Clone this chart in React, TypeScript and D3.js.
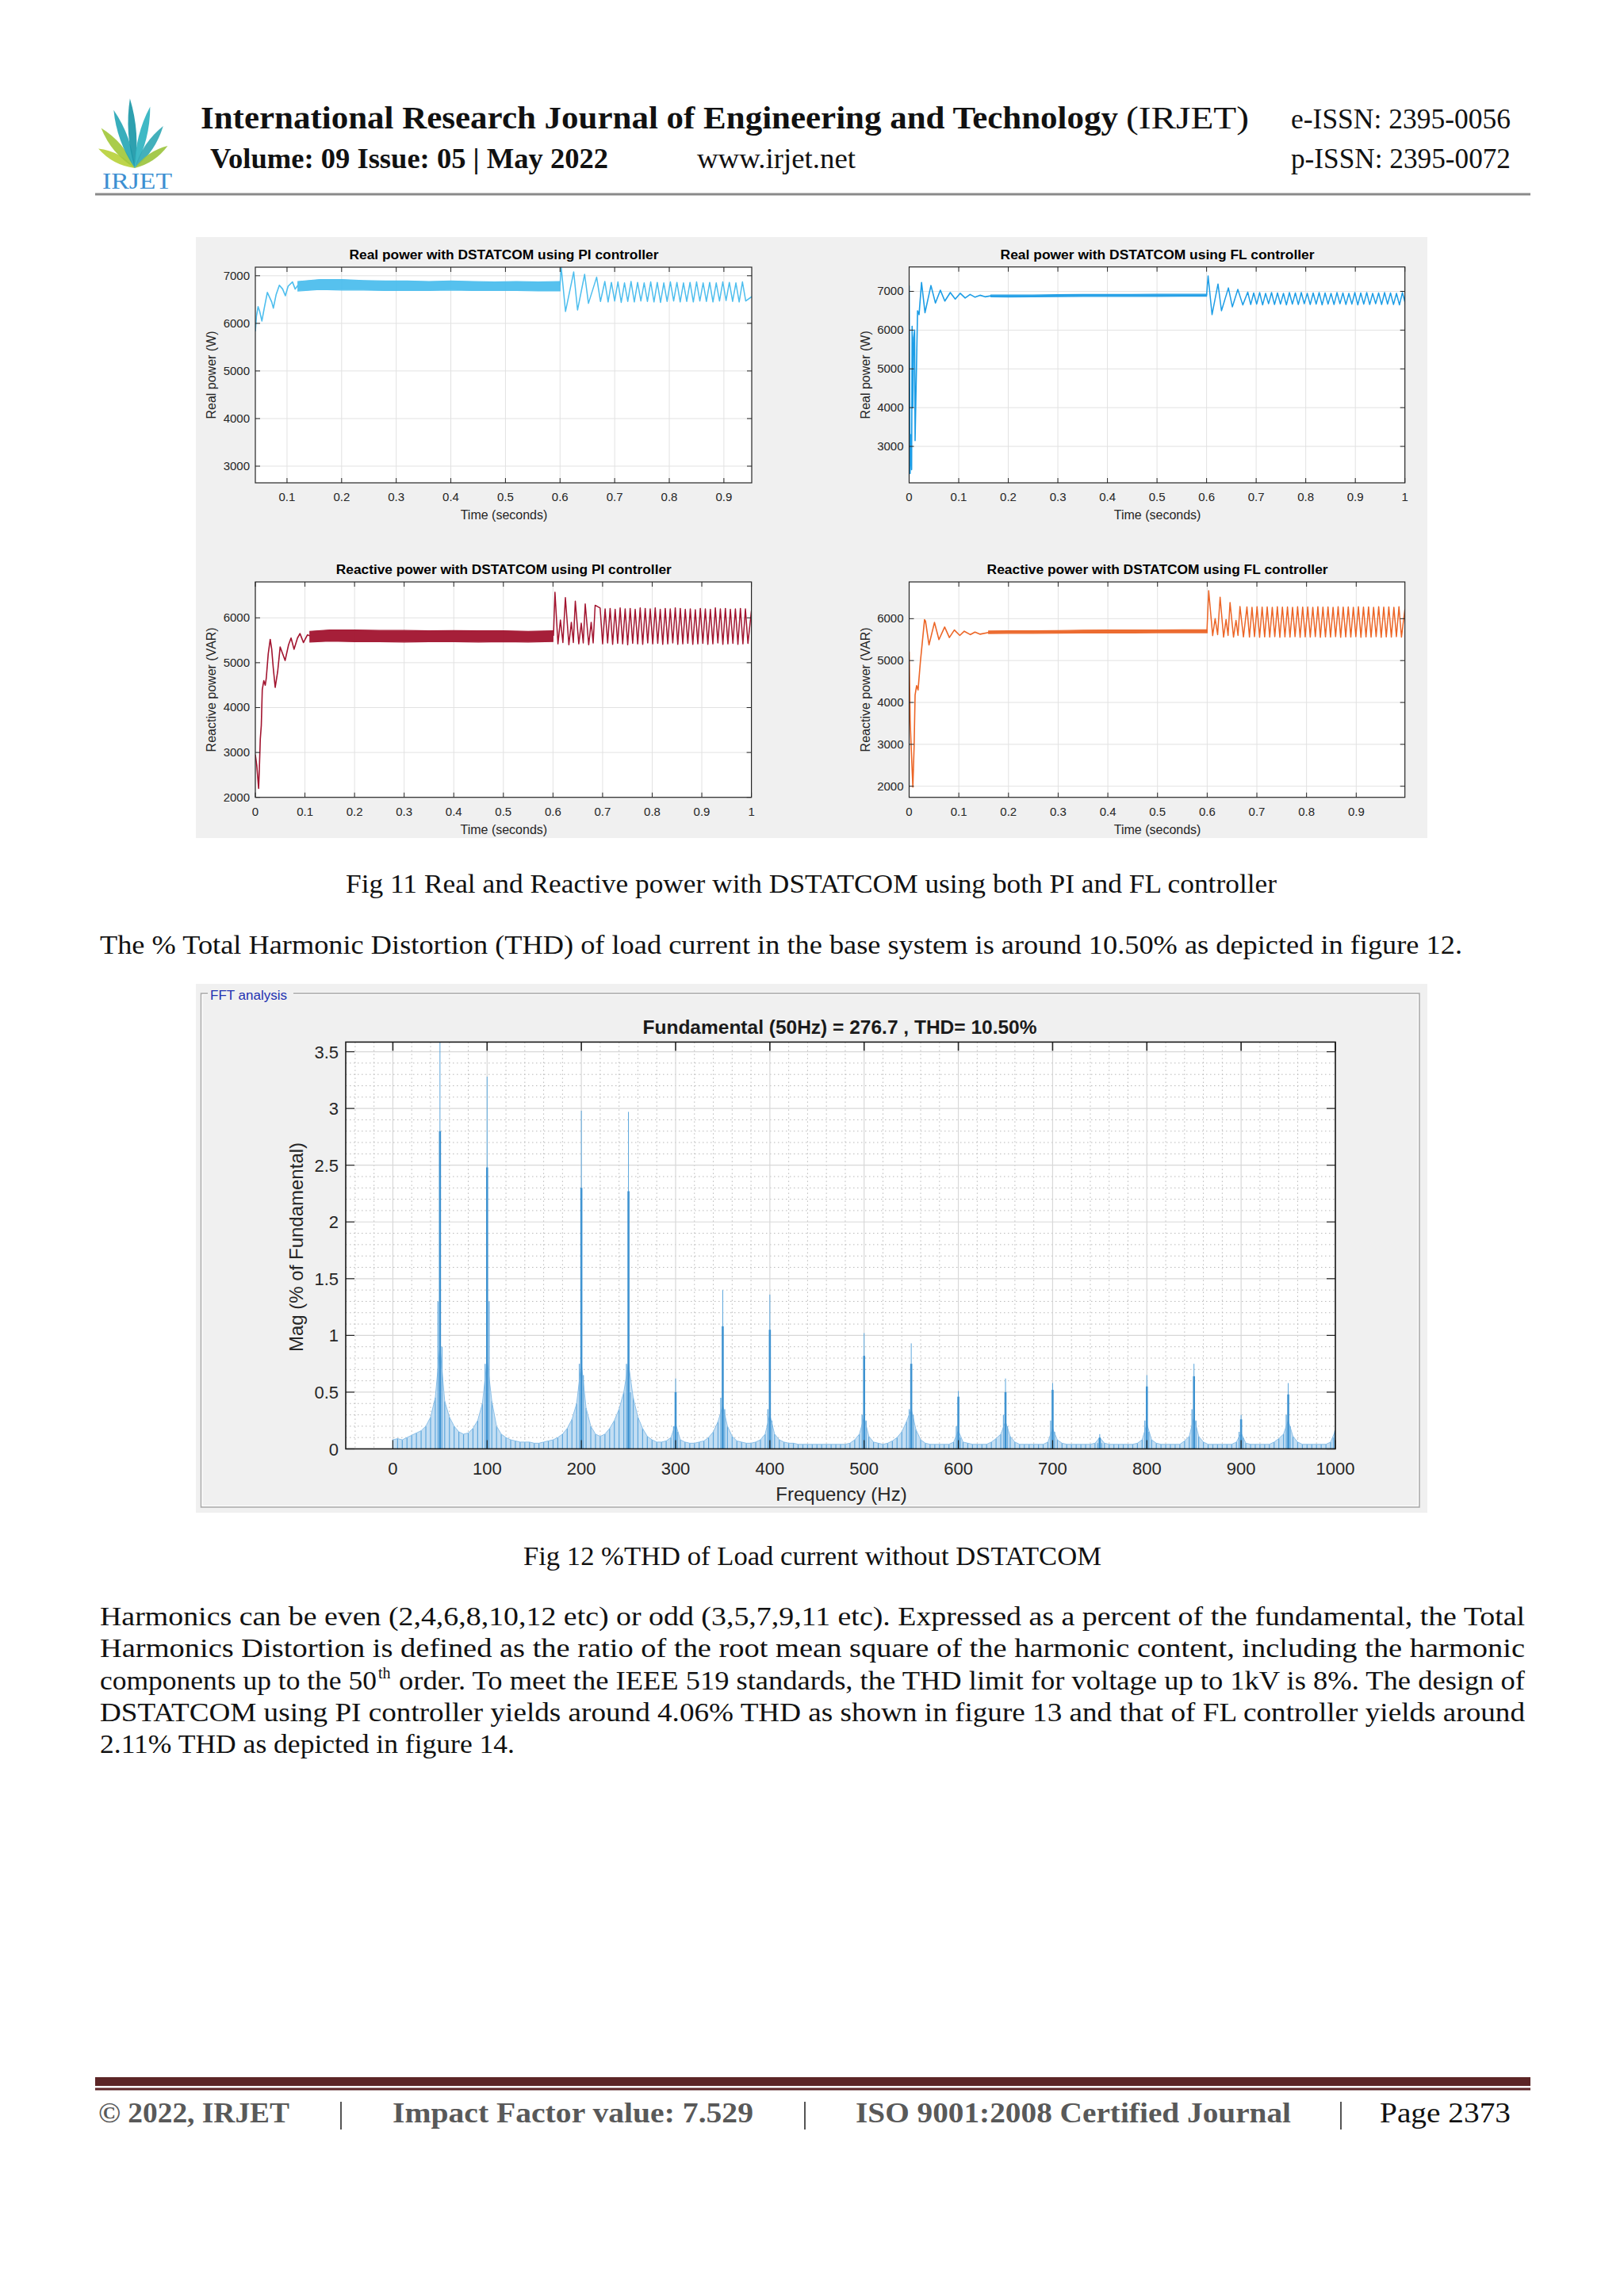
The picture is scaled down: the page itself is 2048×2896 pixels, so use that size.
import React from 'react';
import * as d3 from 'd3';

const SERIF = '"Liberation Serif", "DejaVu Serif", serif';
const SANS = '"Liberation Sans", Arial, "DejaVu Sans", sans-serif';

type Pt = [number, number];

// ---------------- Fig 11 data ----------------
// PI real power
const piRealTransT = [0.042, 0.044, 0.047, 0.050, 0.054, 0.058, 0.064, 0.068, 0.072, 0.075, 0.080, 0.086, 0.092, 0.097, 0.102, 0.110, 0.115, 0.120];
const piRealTransV = [5830, 6150, 6350, 6250, 6050, 6300, 6650, 6550, 6450, 6320, 6600, 6800, 6720, 6580, 6780, 6870, 6720, 6800];
const piRealBandT = [0.12, 0.16, 0.20, 0.24, 0.28, 0.32, 0.36, 0.40, 0.44, 0.48, 0.52, 0.56, 0.60];
const piRealBandHi = [6880, 6920, 6920, 6900, 6890, 6890, 6880, 6890, 6880, 6870, 6880, 6870, 6880];
const piRealBandLo = [6680, 6710, 6700, 6700, 6690, 6690, 6690, 6700, 6690, 6690, 6690, 6680, 6680];
const piRealPostT = [0.600, 0.602, 0.610, 0.625, 0.632, 0.645, 0.652, 0.667, 0.674];
const piRealPostV = [6800, 7190, 6250, 7080, 6280, 7030, 6420, 6970, 6460];
const piRealOscStart = 0.682;
const piRealOscPeriod = 0.012;
const piRealOscHi = [6880, 6860, 6870, 6850, 6880, 6860, 6850, 6870, 6860, 6850, 6870, 6860, 6850, 6860, 6870, 6850, 6860, 6850, 6870, 6860, 6850, 6870];
const piRealOscLo = [6450, 6470, 6440, 6460, 6450, 6470, 6460, 6450, 6440, 6460, 6470, 6450, 6460, 6450, 6470, 6460, 6450, 6470, 6480, 6460, 6450, 6470];
const piRealEnd: Pt = [0.951, 6560];

// FL real power
const flRealTransT = [0, 0.002, 0.003, 0.005, 0.006, 0.0075, 0.009, 0.011, 0.012, 0.014, 0.017, 0.020, 0.025, 0.032, 0.044, 0.053, 0.063, 0.072, 0.083, 0.093, 0.103, 0.113, 0.123, 0.133, 0.143, 0.153, 0.165];
const flRealTransV = [7150, 2300, 3300, 2400, 6100, 4000, 5800, 6000, 3150, 4500, 6500, 6400, 7230, 6450, 7150, 6700, 7030, 6750, 6970, 6800, 6950, 6830, 6920, 6850, 6900, 6860, 6885];
const flRealBandT = [0.165, 0.20, 0.25, 0.30, 0.35, 0.40, 0.45, 0.50, 0.55, 0.60];
const flRealBandHi = [6905, 6905, 6905, 6915, 6920, 6920, 6920, 6925, 6925, 6925];
const flRealBandLo = [6860, 6855, 6860, 6865, 6870, 6870, 6870, 6870, 6875, 6875];
const flRealPostT = [0.600, 0.603, 0.611, 0.623, 0.630, 0.644, 0.652, 0.663, 0.673];
const flRealPostV = [6900, 7400, 6400, 7190, 6500, 7090, 6600, 7050, 6650];
const flRealOscStart = 0.683;
const flRealOscPeriod = 0.012;
const flRealOscHi = [6980, 6960, 6970, 6950, 6970, 6960, 6950, 6970, 6960, 6970, 6950, 6960, 6970, 6960, 6950, 6970, 6960, 6950, 6970, 6960, 6970, 6950, 6960, 6970, 6960, 6950, 6970];
const flRealOscLo = [6660, 6670, 6650, 6680, 6660, 6670, 6650, 6670, 6660, 6680, 6660, 6670, 6650, 6670, 6660, 6680, 6660, 6670, 6650, 6670, 6660, 6680, 6660, 6670, 6660, 6650, 6670];
const flRealEnd: Pt = [1.0, 6850];

// PI reactive power
const piReacTransT = [0, 0.003, 0.0066, 0.008, 0.010, 0.012, 0.014, 0.017, 0.020, 0.022, 0.026, 0.030, 0.033, 0.036, 0.040, 0.045, 0.050, 0.055, 0.060, 0.067, 0.072, 0.078, 0.085, 0.090, 0.097, 0.105, 0.110];
const piReacTransV = [2950, 2700, 2200, 2600, 3300, 3600, 4400, 4600, 4500, 4650, 5200, 5520, 5300, 4900, 4450, 4800, 5350, 5200, 5050, 5400, 5550, 5300, 5550, 5650, 5450, 5620, 5600];
const piReacBandT = [0.11, 0.15, 0.20, 0.25, 0.30, 0.35, 0.40, 0.45, 0.50, 0.55, 0.60];
const piReacBandHi = [5700, 5730, 5730, 5720, 5720, 5710, 5715, 5710, 5710, 5700, 5710];
const piReacBandLo = [5460, 5480, 5470, 5470, 5460, 5470, 5470, 5460, 5470, 5460, 5470];
const piReacPostT = [0.601, 0.604, 0.610, 0.615, 0.620, 0.625, 0.632, 0.637, 0.641, 0.645, 0.652, 0.657, 0.661, 0.665, 0.672, 0.677, 0.681, 0.685];
const piReacPostV = [5600, 6570, 5420, 5950, 5450, 6450, 5400, 5900, 5450, 6370, 5420, 5880, 5440, 6310, 5400, 5900, 5440, 6280];
const piReacOscStart = 0.695;
const piReacOscPeriod = 0.0101;
const piReacOscHi = [6220, 6200, 6210, 6190, 6220, 6200, 6210, 6190, 6220, 6210, 6200, 6220, 6190, 6210, 6200, 6220, 6210, 6190, 6200, 6180, 6210, 6200, 6190, 6220, 6200, 6210, 6190, 6200, 6210, 6200];
const piReacOscLo = [5420, 5440, 5410, 5430, 5420, 5400, 5430, 5420, 5410, 5440, 5420, 5430, 5410, 5420, 5440, 5410, 5420, 5430, 5410, 5420, 5430, 5410, 5420, 5440, 5410, 5420, 5430, 5410, 5420, 5430];
const piReacEnd: Pt = [1.0, 6160];

// FL reactive power
const flReacTransT = [0, 0.002, 0.0045, 0.0075, 0.010, 0.012, 0.015, 0.018, 0.0226, 0.031, 0.033, 0.040, 0.051, 0.060, 0.0715, 0.081, 0.091, 0.102, 0.111, 0.123, 0.1325, 0.143, 0.160];
const flReacTransV = [5218, 3577, 2820, 1980, 2950, 4180, 4400, 4300, 4965, 5975, 5940, 5375, 5910, 5500, 5800, 5550, 5730, 5600, 5700, 5620, 5680, 5630, 5670];
const flReacBandT = [0.16, 0.20, 0.25, 0.30, 0.35, 0.40, 0.45, 0.50, 0.55, 0.60];
const flReacBandHi = [5705, 5710, 5710, 5715, 5725, 5730, 5730, 5730, 5735, 5735];
const flReacBandLo = [5645, 5650, 5650, 5655, 5660, 5660, 5660, 5665, 5665, 5665];
const flReacPostT = [0.5995, 0.603, 0.611, 0.616, 0.621, 0.626, 0.633, 0.638, 0.642, 0.646, 0.653, 0.658, 0.662, 0.666, 0.673];
const flReacPostV = [5700, 6669, 5596, 6000, 5620, 6511, 5560, 5980, 5600, 6385, 5560, 5960, 5600, 6290, 5565];
const flReacOscStart = 0.680;
const flReacOscPeriod = 0.0102;
const flReacOscHi = [6280, 6270, 6285, 6275, 6280, 6270, 6285, 6275, 6280, 6270, 6285, 6275, 6280, 6270, 6285, 6275, 6280, 6270, 6285, 6275, 6280, 6270, 6285, 6275, 6280, 6270, 6285, 6275, 6280, 6270, 6285];
const flReacOscLo = [5560, 5570, 5555, 5565, 5560, 5570, 5555, 5565, 5560, 5570, 5555, 5565, 5560, 5570, 5555, 5565, 5560, 5570, 5555, 5565, 5560, 5570, 5555, 5565, 5560, 5570, 5555, 5565, 5560, 5570, 5560];
const flReacEnd: Pt = [0.998, 6227];

const ticksPIReal = [0.1, 0.2, 0.3, 0.4, 0.5, 0.6, 0.7, 0.8, 0.9];
const ticksFull = [0, 0.1, 0.2, 0.3, 0.4, 0.5, 0.6, 0.7, 0.8, 0.9, 1];
const ticksNoOne = [0, 0.1, 0.2, 0.3, 0.4, 0.5, 0.6, 0.7, 0.8, 0.9];
const realYTicks = [3000, 4000, 5000, 6000, 7000];
const reacYTicks = [2000, 3000, 4000, 5000, 6000];

// ---------------- Fig 12 data ----------------
const fftEnvStep = 5; // Hz between envelope samples, starting at 0 Hz
const fftEnvelope = [
  0.08, 0.09, 0.08, 0.10, 0.12, 0.14, 0.16, 0.20, 0.28, 0.45,
  0.90, 0.42, 0.28, 0.20, 0.15, 0.13, 0.14, 0.18, 0.25, 0.40,
  0.78, 0.42, 0.20, 0.13, 0.10, 0.08, 0.07, 0.06, 0.06, 0.06,
  0.05, 0.05, 0.06, 0.07, 0.08, 0.10, 0.13, 0.18, 0.26, 0.40,
  0.75, 0.36, 0.20, 0.13, 0.11, 0.13, 0.18, 0.25, 0.35, 0.50,
  0.75, 0.45, 0.28, 0.18, 0.11, 0.08, 0.06, 0.06, 0.07, 0.10,
  0.22, 0.08, 0.06, 0.05, 0.05, 0.06, 0.07, 0.10, 0.15, 0.24,
  0.38, 0.20, 0.11, 0.07, 0.06, 0.05, 0.05, 0.06, 0.08, 0.13,
  0.30, 0.13, 0.08, 0.06, 0.05, 0.05, 0.04, 0.04, 0.04, 0.04,
  0.04, 0.04, 0.04, 0.04, 0.04, 0.04, 0.04, 0.05, 0.08, 0.13,
  0.28, 0.11, 0.06, 0.05, 0.04, 0.05, 0.07, 0.10, 0.15, 0.24,
  0.35, 0.17, 0.08, 0.05, 0.04, 0.04, 0.04, 0.04, 0.04, 0.06,
  0.16, 0.06, 0.05, 0.04, 0.04, 0.04, 0.04, 0.06, 0.09, 0.13,
  0.24, 0.11, 0.06, 0.04, 0.04, 0.04, 0.04, 0.04, 0.04, 0.06,
  0.18, 0.08, 0.05, 0.04, 0.04, 0.04, 0.04, 0.04, 0.04, 0.05,
  0.10, 0.05, 0.04, 0.04, 0.04, 0.04, 0.04, 0.04, 0.05, 0.08,
  0.22, 0.08, 0.05, 0.04, 0.04, 0.04, 0.04, 0.04, 0.07, 0.11,
  0.28, 0.11, 0.06, 0.04, 0.04, 0.04, 0.04, 0.04, 0.04, 0.06,
  0.14, 0.05, 0.04, 0.04, 0.04, 0.04, 0.04, 0.06, 0.09, 0.13,
  0.25, 0.11, 0.06, 0.04, 0.04, 0.04, 0.04, 0.04, 0.04, 0.06,
  0.16,
];
const harmonicFreq = [50, 100, 200, 250, 300, 350, 400, 500, 550, 600, 650, 700, 750, 800, 850, 900, 950, 1000];
const harmonicTop = [3.585, 3.28, 2.98, 2.97, 0.62, 1.40, 1.36, 1.02, 0.93, 0.51, 0.62, 0.58, 0.13, 0.65, 0.75, 0.30, 0.58, 0.16];
const harmonicMain = [2.80, 2.48, 2.30, 2.27, 0.50, 1.08, 1.05, 0.82, 0.75, 0.46, 0.50, 0.52, 0.10, 0.55, 0.64, 0.26, 0.48, 0.16];
const harmonicSideL = [1.30, 0.75, 0.75, 0.75, 0.20, 0.45, 0.35, 0.30, 0.35, 0.20, 0.30, 0.25, 0.05, 0.25, 0.35, 0.15, 0.30, 0.10];
const harmonicSideR = [0.90, 1.30, 0.65, 0.50, 0.15, 0.35, 0.25, 0.25, 0.30, 0.10, 0.20, 0.15, 0.05, 0.15, 0.25, 0.10, 0.20, 0.10];
const fftXTicks = [0, 100, 200, 300, 400, 500, 600, 700, 800, 900, 1000];
const fftYTicks = [0, 0.5, 1, 1.5, 2, 2.5, 3, 3.5];

// ---------------- helpers ----------------
function zip(t: number[], v: number[]): Pt[] {
  return t.map((tt, i) => [tt, v[i]] as Pt);
}
function oscPoints(start: number, period: number, hi: number[], lo: number[]): Pt[] {
  const pts: Pt[] = [];
  hi.forEach((h, k) => {
    pts.push([start + k * period, h]);
    if (lo[k] !== undefined) pts.push([start + k * period + period / 2, lo[k]]);
  });
  return pts;
}

interface PlotSpec {
  id: string;
  left: number; right: number; top: number; bottom: number;
  xDomain: [number, number]; yDomain: [number, number];
  xTicks: number[]; yTicks: number[];
  title: string; titleLen: number; xlabel: string; ylabel: string; color: string;
  trans: Pt[]; bandT: number[]; bandHi: number[]; bandLo: number[]; post: Pt[];
}

const plots: PlotSpec[] = [
  {
    id: 'a', left: 322, right: 948, top: 337, bottom: 609,
    xDomain: [0.042, 0.951], yDomain: [2650, 7180], xTicks: ticksPIReal, yTicks: realYTicks,
    title: 'Real power with DSTATCOM using PI controller', titleLen: 390,
    xlabel: 'Time (seconds)', ylabel: 'Real power (W)', color: '#4DBEEE',
    trans: zip(piRealTransT, piRealTransV), bandT: piRealBandT, bandHi: piRealBandHi, bandLo: piRealBandLo,
    post: [...zip(piRealPostT, piRealPostV), ...oscPoints(piRealOscStart, piRealOscPeriod, piRealOscHi, piRealOscLo), piRealEnd],
  },
  {
    id: 'b', left: 1146.5, right: 1771.7, top: 336.7, bottom: 609,
    xDomain: [0, 1], yDomain: [2060, 7630], xTicks: ticksFull, yTicks: realYTicks,
    title: 'Real power with DSTATCOM using FL controller', titleLen: 396,
    xlabel: 'Time (seconds)', ylabel: 'Real power (W)', color: '#1C9DE6',
    trans: zip(flRealTransT, flRealTransV), bandT: flRealBandT, bandHi: flRealBandHi, bandLo: flRealBandLo,
    post: [...zip(flRealPostT, flRealPostV), ...oscPoints(flRealOscStart, flRealOscPeriod, flRealOscHi, flRealOscLo), flRealEnd],
  },
  {
    id: 'c', left: 322, right: 947.6, top: 734, bottom: 1005.7,
    xDomain: [0, 1], yDomain: [2000, 6800], xTicks: ticksFull, yTicks: reacYTicks,
    title: 'Reactive power with DSTATCOM using PI controller', titleLen: 423,
    xlabel: 'Time (seconds)', ylabel: 'Reactive power (VAR)', color: '#A2142F',
    trans: zip(piReacTransT, piReacTransV), bandT: piReacBandT, bandHi: piReacBandHi, bandLo: piReacBandLo,
    post: [...zip(piReacPostT, piReacPostV), ...oscPoints(piReacOscStart, piReacOscPeriod, piReacOscHi, piReacOscLo), piReacEnd],
  },
  {
    id: 'd', left: 1146.5, right: 1771.7, top: 734, bottom: 1005.7,
    xDomain: [0, 0.998], yDomain: [1735, 6877], xTicks: ticksNoOne, yTicks: reacYTicks,
    title: 'Reactive power with DSTATCOM using FL controller', titleLen: 430,
    xlabel: 'Time (seconds)', ylabel: 'Reactive power (VAR)', color: '#EC6526',
    trans: zip(flReacTransT, flReacTransV), bandT: flReacBandT, bandHi: flReacBandHi, bandLo: flReacBandLo,
    post: [...zip(flReacPostT, flReacPostV), ...oscPoints(flReacOscStart, flReacOscPeriod, flReacOscHi, flReacOscLo), flReacEnd],
  },
];

const fmtTick = (t: number) => `${+t.toFixed(2)}`;

function TimePlot({ s }: { s: PlotSpec }) {
  const x = d3.scaleLinear().domain(s.xDomain).range([s.left, s.right]);
  const y = d3.scaleLinear().domain(s.yDomain).range([s.bottom, s.top]);
  const line = d3.line<Pt>().x(d => x(d[0])).y(d => y(d[1]));
  const area = d3.area<number>()
    .x(d => x(d))
    .y0((d, i) => y(s.bandLo[i]))
    .y1((d, i) => y(s.bandHi[i]));
  const cx = (s.left + s.right) / 2 + 0.5;
  const tl = 6;
  return (
    <g>
      <defs>
        <clipPath id={`clip-${s.id}`}>
          <rect x={s.left} y={s.top} width={s.right - s.left} height={s.bottom - s.top} />
        </clipPath>
      </defs>
      <rect x={s.left} y={s.top} width={s.right - s.left} height={s.bottom - s.top} fill="#fff" />
      {s.xTicks.map(t => (
        <line key={`gx${t}`} x1={x(t)} x2={x(t)} y1={s.top} y2={s.bottom} stroke="#e2e2e2" strokeWidth={1} />
      ))}
      {s.yTicks.map(t => (
        <line key={`gy${t}`} x1={s.left} x2={s.right} y1={y(t)} y2={y(t)} stroke="#e2e2e2" strokeWidth={1} />
      ))}
      <g clipPath={`url(#clip-${s.id})`}>
        <path d={area(s.bandT) || ''} fill={s.color} stroke={s.color} strokeWidth={1.2} opacity={0.95} />
        <path d={line(s.trans) || ''} fill="none" stroke={s.color} strokeWidth={1.6} strokeLinejoin="round" />
        <path d={line(s.post) || ''} fill="none" stroke={s.color} strokeWidth={1.5} strokeLinejoin="round" />
      </g>
      {s.xTicks.map(t => (
        <g key={`tx${t}`}>
          <line x1={x(t)} x2={x(t)} y1={s.bottom} y2={s.bottom - tl} stroke="#262626" />
          <line x1={x(t)} x2={x(t)} y1={s.top} y2={s.top + tl} stroke="#262626" />
          <text x={x(t)} y={s.bottom + 23} textAnchor="middle" fontFamily={SANS} fontSize={15} fill="#262626">{fmtTick(t)}</text>
        </g>
      ))}
      {s.yTicks.map(t => (
        <g key={`ty${t}`}>
          <line x1={s.left} x2={s.left + tl} y1={y(t)} y2={y(t)} stroke="#262626" />
          <line x1={s.right} x2={s.right - tl} y1={y(t)} y2={y(t)} stroke="#262626" />
          <text x={s.left - 7} y={y(t) + 5} textAnchor="end" fontFamily={SANS} fontSize={15} fill="#262626">{t}</text>
        </g>
      ))}
      <rect x={s.left} y={s.top} width={s.right - s.left} height={s.bottom - s.top} fill="none" stroke="#262626" strokeWidth={1.2} />
      <text x={cx} y={s.top - 10} textAnchor="middle" fontFamily={SANS} fontWeight="bold" fontSize={16} fill="#000"
        textLength={s.titleLen} lengthAdjust="spacingAndGlyphs">{s.title}</text>
      <text x={cx} y={s.bottom + 46} textAnchor="middle" fontFamily={SANS} fontSize={16} fill="#262626">{s.xlabel}</text>
      <text transform={`translate(${s.left - 50},${(s.top + s.bottom) / 2}) rotate(-90)`} textAnchor="middle"
        fontFamily={SANS} fontSize={16} fill="#262626">{s.ylabel}</text>
    </g>
  );
}

function FFTChart() {
  const L = 436, R = 1684, T = 1314.4, B = 1827.5;
  const x = d3.scaleLinear().domain([-50, 1000]).range([L, R]);
  const y = d3.scaleLinear().domain([0, 3.585]).range([B, T]);
  const envPts: Pt[] = fftEnvelope.map((v, i) => [i * fftEnvStep, v]);
  const area = d3.area<Pt>().x(d => x(d[0])).y0(B).y1(d => y(d[1]));
  const envLine = d3.line<Pt>().x(d => x(d[0])).y(d => y(d[1]));
  const minorX = d3.range(-40, 1000, 20).filter(v => v % 100 !== 0);
  const minorY = d3.range(1, 36).map(v => v / 10).filter(v => Math.abs(v * 2 - Math.round(v * 2)) > 1e-6);
  const blue = '#3f93d1';
  return (
    <g>
      <rect x={247} y={1241} width={1553} height={667} fill="#f0f0f0" />
      <path d="M262,1253 H253.5 V1901 H1790 V1253 H370" fill="none" stroke="#a9a9a9" strokeWidth={1.5} />
      <path d="M262,1254.5 H255 V1899.5 H1788.5 V1254.5 H370" fill="none" stroke="#ffffff" strokeWidth={1} />
      <text x={265} y={1261} fontFamily={SANS} fontSize={17} fill="#2231b0">FFT analysis</text>
      <text x={1059} y={1304} textAnchor="middle" fontFamily={SANS} fontWeight="bold" fontSize={23} fill="#1a1a1a"
        textLength={497} lengthAdjust="spacingAndGlyphs">Fundamental (50Hz) = 276.7 , THD= 10.50%</text>
      <rect x={L} y={T} width={R - L} height={B - T} fill="#fff" />
      {minorX.map(v => (
        <line key={`mx${v}`} x1={x(v)} x2={x(v)} y1={T} y2={B} stroke="#b8b8b8" strokeWidth={1} strokeDasharray="1.5,3.5" />
      ))}
      {minorY.map(v => (
        <line key={`my${v}`} x1={L} x2={R} y1={y(v)} y2={y(v)} stroke="#b8b8b8" strokeWidth={1} strokeDasharray="1.5,3.5" />
      ))}
      {fftXTicks.map(v => (
        <line key={`gx${v}`} x1={x(v)} x2={x(v)} y1={T} y2={B} stroke="#d8d8d8" strokeWidth={1.2} />
      ))}
      {fftYTicks.map(v => (
        <line key={`gy${v}`} x1={L} x2={R} y1={y(v)} y2={y(v)} stroke="#d8d8d8" strokeWidth={1.2} />
      ))}
      <defs>
        <clipPath id="clip-fft">
          <rect x={L} y={T} width={R - L} height={B - T} />
        </clipPath>
      </defs>
      <g clipPath="url(#clip-fft)">
        <path d={area(envPts) || ''} fill="#c3def3" />
        {envPts.map(d => (
          <line key={`eb${d[0]}`} x1={x(d[0])} x2={x(d[0])} y1={B} y2={y(d[1])} stroke="#5fa7dc" strokeWidth={1.2} />
        ))}
        <path d={envLine(envPts) || ''} fill="none" stroke="#8cc0e8" strokeWidth={1} />
        {harmonicFreq.map((f, i) => (
          <g key={`h${f}`}>
            <line x1={x(f) - 2.5} x2={x(f) - 2.5} y1={B} y2={y(harmonicSideL[i])} stroke="#6fb0e0" strokeWidth={1.4} />
            <line x1={x(f) + 2.5} x2={x(f) + 2.5} y1={B} y2={y(harmonicSideR[i])} stroke="#6fb0e0" strokeWidth={1.4} />
            <line x1={x(f)} x2={x(f)} y1={B} y2={y(harmonicTop[i])} stroke="#5aa6dc" strokeWidth={1} />
            <line x1={x(f)} x2={x(f)} y1={B} y2={y(harmonicMain[i])} stroke={blue} strokeWidth={2.6} />
          </g>
        ))}
      </g>
      {fftXTicks.map(v => (
        <g key={`tx${v}`}>
          <line x1={x(v)} x2={x(v)} y1={B} y2={B - 11} stroke="#262626" strokeWidth={1.2} />
          <line x1={x(v)} x2={x(v)} y1={T} y2={T + 11} stroke="#262626" strokeWidth={1.6} />
          <text x={x(v)} y={1859.5} textAnchor="middle" fontFamily={SANS} fontSize={22} fill="#262626">{v}</text>
        </g>
      ))}
      {fftYTicks.map(v => (
        <g key={`ty${v}`}>
          <line x1={L} x2={L + 11} y1={y(v)} y2={y(v)} stroke="#262626" strokeWidth={1.2} />
          <line x1={R} x2={R - 11} y1={y(v)} y2={y(v)} stroke="#262626" strokeWidth={1.2} />
          <text x={427} y={y(v) + 8} textAnchor="end" fontFamily={SANS} fontSize={22} fill="#262626">{v}</text>
        </g>
      ))}
      <rect x={L} y={T} width={R - L} height={B - T} fill="none" stroke="#1a1a1a" strokeWidth={1.6} />
      <text x={1061} y={1893} textAnchor="middle" fontFamily={SANS} fontSize={24} fill="#262626">Frequency (Hz)</text>
      <text transform={`translate(382,1573) rotate(-90)`} textAnchor="middle" fontFamily={SANS} fontSize={24} fill="#262626">Mag (% of Fundamental)</text>
    </g>
  );
}

function Logo() {
  const cx = 170, cy = 212;
  const leaves = [
    { a: -62, L: 52, w: 10, c: '#b9d13c' },
    { a: -40, L: 66, w: 11, c: '#a3c83c' },
    { a: -20, L: 78, w: 10, c: '#27a7b6' },
    { a: -4, L: 88, w: 10, c: '#1c98a8' },
    { a: 14, L: 80, w: 10, c: '#2fb3c0' },
    { a: 34, L: 64, w: 10, c: '#33a9b5' },
    { a: 56, L: 50, w: 9, c: '#9cc43f' },
  ];
  return (
    <g>
      {leaves.map((l, i) => (
        <path key={i} transform={`translate(${cx},${cy}) rotate(${l.a})`}
          d={`M0,0 Q${l.w},${-l.L * 0.5} 0,${-l.L} Q${-l.w},${-l.L * 0.5} 0,0 Z`} fill={l.c} opacity={0.92} />
      ))}
      <text x={129} y={238} fontFamily={SERIF} fontSize={30} fill="#3d8fd2" textLength={88} lengthAdjust="spacingAndGlyphs">IRJET</text>
    </g>
  );
}

function Header() {
  return (
    <g>
      <Logo />
      <text x={253} y={162} fontFamily={SERIF} fontWeight="bold" fontSize={40} fill="#111"
        textLength={1157} lengthAdjust="spacingAndGlyphs">International Research Journal of Engineering and Technology</text>
      <text x={1420} y={162} fontFamily={SERIF} fontSize={40} fill="#111" textLength={155} lengthAdjust="spacingAndGlyphs">(IRJET)</text>
      <text x={1628} y={162} fontFamily={SERIF} fontSize={35} fill="#111" textLength={277} lengthAdjust="spacingAndGlyphs">e-ISSN: 2395-0056</text>
      <text x={265} y={212} fontFamily={SERIF} fontWeight="bold" fontSize={35} fill="#111" textLength={502} lengthAdjust="spacingAndGlyphs">Volume: 09 Issue: 05 | May 2022</text>
      <text x={879} y={212} fontFamily={SERIF} fontSize={35} fill="#111" textLength={200} lengthAdjust="spacingAndGlyphs">www.irjet.net</text>
      <text x={1628} y={212} fontFamily={SERIF} fontSize={35} fill="#111" textLength={277} lengthAdjust="spacingAndGlyphs">p-ISSN: 2395-0072</text>
      <line x1={120} x2={1930} y1={245} y2={245} stroke="#8a8a8a" strokeWidth={3} />
    </g>
  );
}

function Body() {
  const fs = 33;
  const common = { fontFamily: SERIF, fontSize: fs, fill: '#111', lengthAdjust: 'spacingAndGlyphs' as const };
  return (
    <g>
      <text x={436} y={1126} {...common} textLength={1174}>Fig 11 Real and Reactive power with DSTATCOM using both PI and FL controller</text>
      <text x={126} y={1203} {...common} textLength={1718}>The % Total Harmonic Distortion (THD) of load current in the base system is around 10.50% as depicted in figure 12.</text>
      <text x={660} y={1974} {...common} textLength={729}>Fig 12 %THD of Load current without DSTATCOM</text>
      <text x={126} y={2050} {...common} textLength={1797}>Harmonics can be even (2,4,6,8,10,12 etc) or odd (3,5,7,9,11 etc). Expressed as a percent of the fundamental, the Total</text>
      <text x={126} y={2090} {...common} textLength={1797}>Harmonics Distortion is defined as the ratio of the root mean square of the harmonic content, including the harmonic</text>
      <text x={126} y={2131} {...common} textLength={349}>components up to the 50</text>
      <text x={477} y={2117} fontFamily={SERIF} fontSize={20} fill="#111">th</text>
      <text x={503} y={2131} {...common} textLength={1420}>order. To meet the IEEE 519 standards, the THD limit for voltage up to 1kV is 8%. The design of</text>
      <text x={126} y={2171} {...common} textLength={1797}>DSTATCOM using PI controller yields around 4.06% THD as shown in figure 13 and that of FL controller yields around</text>
      <text x={126} y={2211} {...common} textLength={523}>2.11% THD as depicted in figure 14.</text>
    </g>
  );
}

function Footer() {
  const c = { fontFamily: SERIF, fontSize: 36, lengthAdjust: 'spacingAndGlyphs' as const };
  return (
    <g>
      <rect x={120} y={2620} width={1810} height={11} fill="#5c2526" />
      <rect x={120} y={2633.5} width={1810} height={3} fill="#5c2526" />
      <text x={124} y={2677} {...c} fontWeight="bold" fill="#595959" textLength={241}>© 2022, IRJET</text>
      <text x={495} y={2677} {...c} fontWeight="bold" fill="#595959" textLength={455}>Impact Factor value: 7.529</text>
      <text x={1079} y={2677} {...c} fontWeight="bold" fill="#595959" textLength={549}>ISO 9001:2008 Certified Journal</text>
      <text x={1740} y={2677} {...c} fill="#111" textLength={165}>Page 2373</text>
      {[430, 1015, 1691].map(xx => (
        <line key={xx} x1={xx} x2={xx} y1={2651} y2={2686} stroke="#555" strokeWidth={2} />
      ))}
    </g>
  );
}

export default function App() {
  return (
    <svg width={2048} height={2896} viewBox="0 0 2048 2896"
      style={{ position: 'absolute', left: 0, top: 0, display: 'block' }}>
      <rect x={0} y={0} width={2048} height={2896} fill="#ffffff" />
      <Header />
      <rect x={247} y={299} width={1553} height={758} fill="#f0f0f0" />
      {plots.map(p => <TimePlot key={p.id} s={p} />)}
      <FFTChart />
      <Body />
      <Footer />
    </svg>
  );
}
